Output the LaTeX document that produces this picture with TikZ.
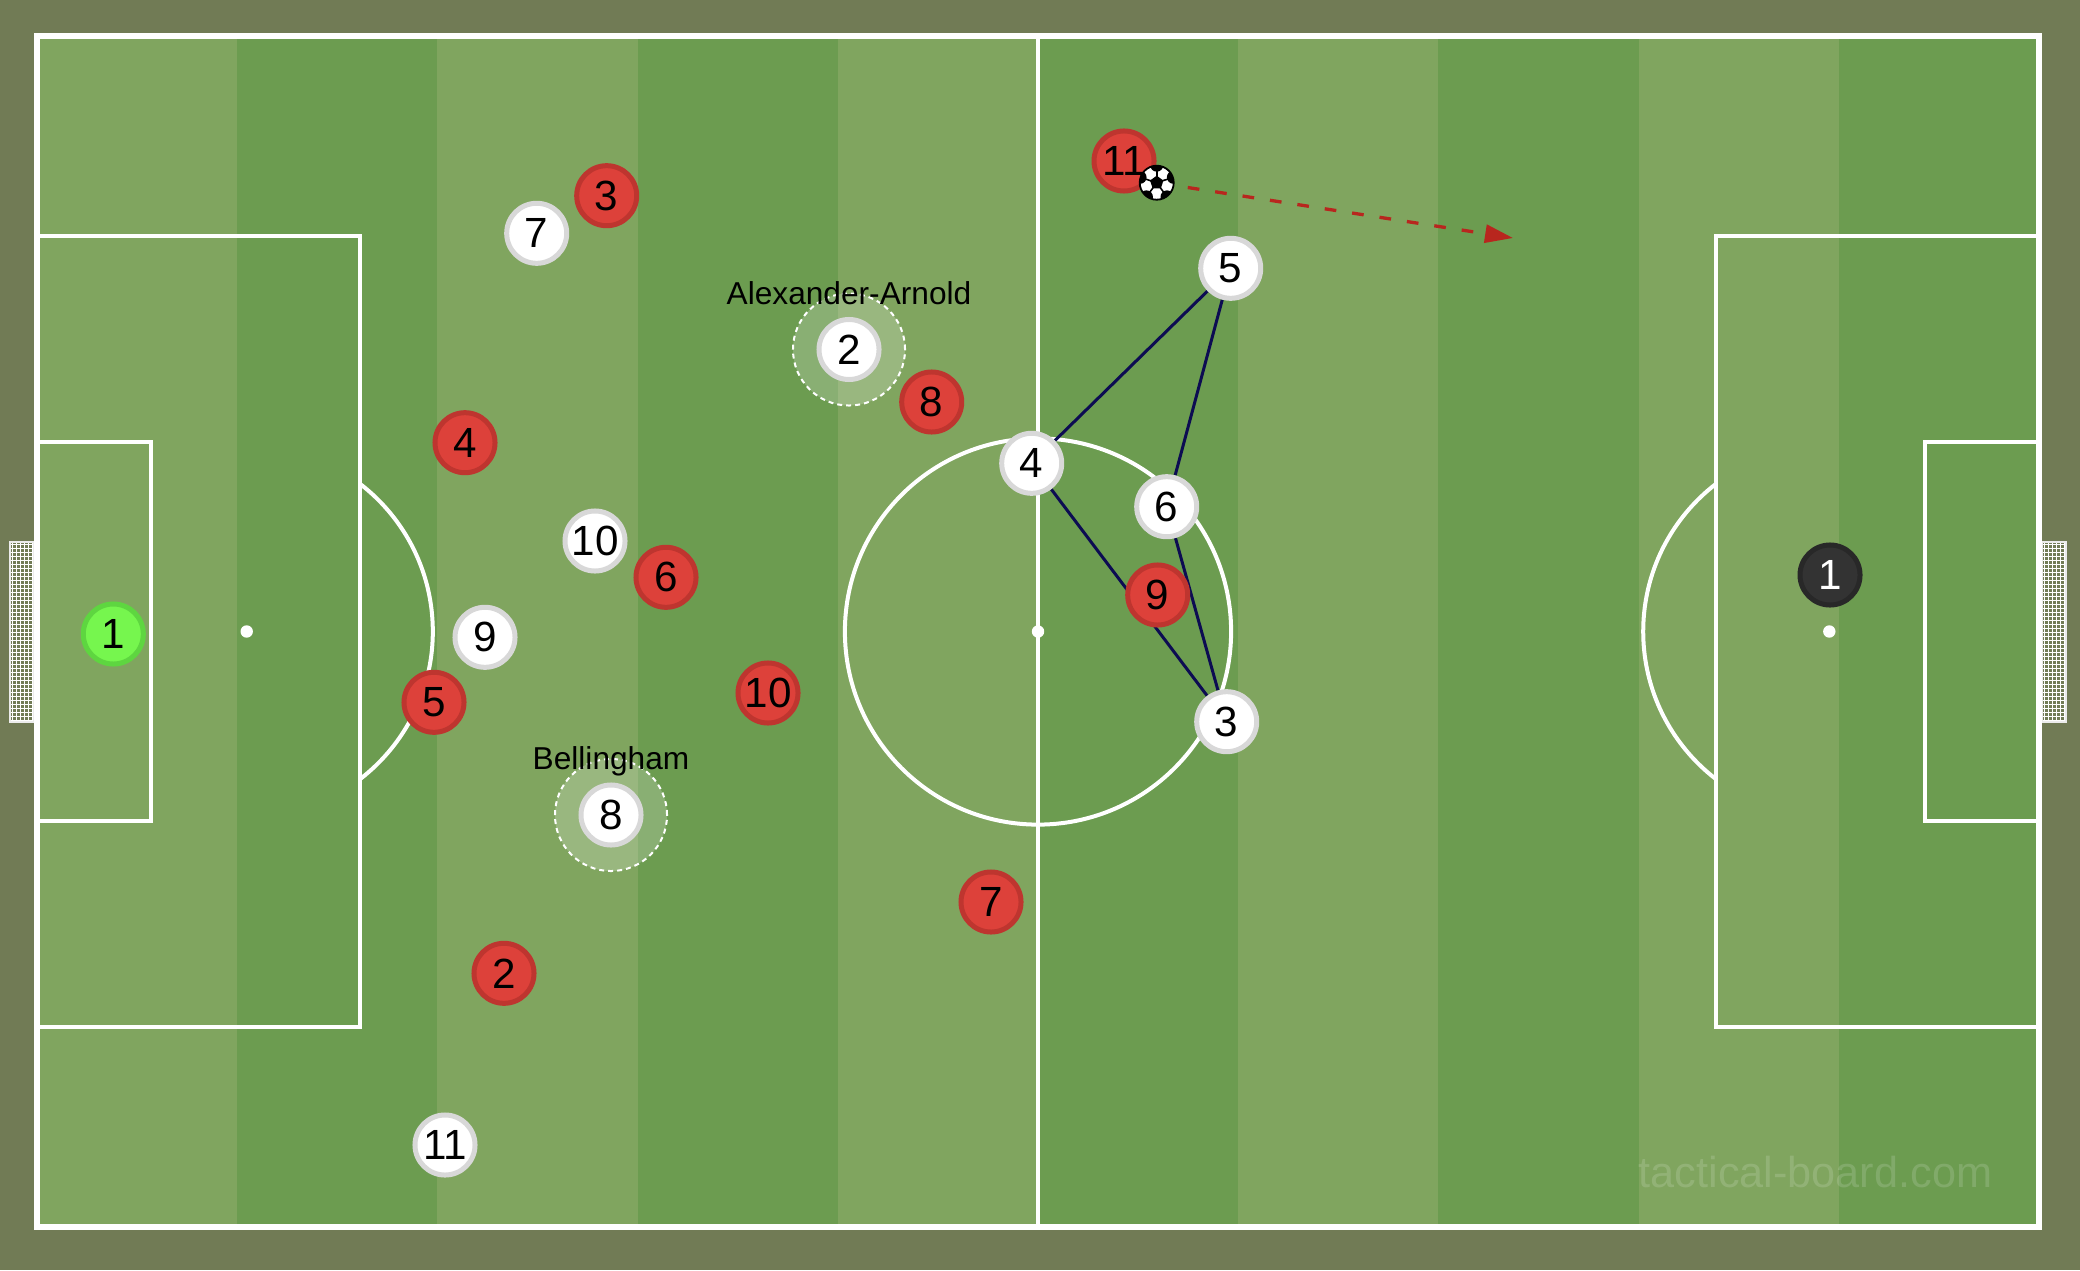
\documentclass[tikz,border=0pt]{standalone}
\usepackage{fontspec}
\setmainfont{Liberation Sans}
\usepackage{tikz}
\usetikzlibrary{arrows.meta,positioning}
\definecolor{board}{RGB}{113,123,85}
\definecolor{turf}{RGB}{128,165,95}
\definecolor{turfdark}{RGB}{108,156,80}
\definecolor{redfill}{RGB}{221,65,58}
\definecolor{redring}{RGB}{190,53,47}
\definecolor{whitering}{RGB}{216,216,216}
\definecolor{keepergreen}{RGB}{118,246,78}
\definecolor{keeperring}{RGB}{94,214,64}
\definecolor{keeperdark}{RGB}{51,51,51}
\definecolor{keeperdarkring}{RGB}{40,40,40}
\definecolor{navy}{RGB}{12,12,82}
\definecolor{passred}{RGB}{184,38,30}
\pgfdeclarelayer{pitch}
\pgfdeclarelayer{links}
\pgfsetlayers{pitch,links,main}
\tikzstyle{token} = [circle, minimum size=0.60cm, inner sep=0pt, line width=0.05cm, font=\fontsize{12}{14}\selectfont]
\tikzstyle{redman} = [token, draw=redring, fill=redfill]
\tikzstyle{whiteman} = [token, draw=whitering, fill=white]
\tikzstyle{greenkeeper} = [token, draw=keeperring, fill=keepergreen]
\tikzstyle{darkkeeper} = [token, draw=keeperdarkring, fill=keeperdark, text=white]
\tikzstyle{spotlight} = [circle, minimum size=1.12cm, inner sep=0pt, draw=white, fill=white, fill opacity=0.2,
    line width=0.02cm, dash pattern=on 0.05cm off 0.04cm]
\tikzstyle{namelabel} = [anchor=base, inner sep=0pt, font=\fontsize{9}{11}\selectfont]
\tikzstyle{pitchline} = [draw=white, line width=0.04cm]
\tikzstyle{link} = [draw=navy, line width=0.03cm]
\tikzstyle{pass} = [draw=passred, line width=0.033cm, dash pattern=on 0.117cm off 0.16cm,
    -{Triangle[length=0.28cm,width=0.18cm]}, shorten <=0.135cm]
\tikzstyle{ball} = [circle, draw=black, fill=white, line width=0.018cm, minimum size=0.34cm, inner sep=0pt,
    path picture={
      \foreach \a in {90,162,234,306,18}
        \draw[black, line width=0.016cm] (path picture bounding box.center) -- +(\a:0.2cm);
      \fill[black] (path picture bounding box.center) +(90:0.07cm) -- +(162:0.07cm) -- +(234:0.07cm)
        -- +(306:0.07cm) -- +(18:0.07cm) -- cycle;
      \foreach \a in {90,162,234,306,18}
        \fill[black] ([shift={(\a:0.175cm)}]path picture bounding box.center) circle[radius=0.065cm];
    }]

\begin{document}
\begin{tikzpicture}[x=0.01cm, y=-0.01cm]
    \useasboundingbox (0,0) rectangle (2080,1270);
    \begin{pgfonlayer}{pitch}
    % Turf
    \fill[board] (0,0) rectangle (2080,1270);
    \fill[turf] (37,36) rectangle (2039,1227);
    \foreach \i in {1,3,5,7,9}
        \fill[turfdark] ({37+200.2*\i},36) rectangle ({37+200.2*(\i+1)},1227);
    % Goals
    \foreach \gx in {10,2042} {
        \draw[white, line width=0.01cm, step=0.04cm] (\gx,542) grid (\gx+24,722);
        \draw[white!85!gray, line width=0.015cm] (\gx,542) rectangle (\gx+24,722);
    }
    % Markings
    \draw[pitchline, line width=0.06cm] (37,36) rectangle (2039,1227);
    \draw[pitchline] (1038,36) -- (1038,1227);
    \draw[pitchline] (1038,631.5) circle[radius=1.93cm];
    \draw[pitchline] (37,236) rectangle (360,1027);
    \draw[pitchline] (37,442) rectangle (151,821);
    \draw[pitchline] (2039,236) rectangle (1716,1027);
    \draw[pitchline] (2039,442) rectangle (1925,821);
    \begin{scope}
        \clip (360,0) rectangle (700,1270);
        \draw[pitchline] (246.7,631.5) circle[radius=1.86cm];
    \end{scope}
    \begin{scope}
        \clip (1380,0) rectangle (1716,1270);
        \draw[pitchline] (1829.3,631.5) circle[radius=1.86cm];
    \end{scope}
    \foreach \sx in {246.7,1038,1829.3}
        \fill[white] (\sx,631.5) circle[radius=0.062cm];
    \end{pgfonlayer}

    \node[anchor=base west, inner sep=0pt, text=white, text opacity=0.15, font=\fontsize{12.3}{14}\selectfont]
        (mark) at (1638,1187) {tactical-board.com};

    % Place nodes
    \node[spotlight] (w2ring) at (849,349.5) {};
    \node[spotlight] (w8ring) at (611,815) {};
    \node[greenkeeper] (gk1) at (113.3,634) {1};
    \node[darkkeeper] (gk2) at (1830,575) {1};

    \node[whiteman] (w7) at (536.7,233.3) {7};
    \node[whiteman] (w2) at (849,349.5) {2};
    \node[whiteman] (w10) at (595,541) {10};
    \node[whiteman] (w9) at (485,637.3) {9};
    \node[whiteman] (w8) at (611,815) {8};
    \node[whiteman] (w11) at (445,1145) {11};
    \node[whiteman] (w4) at (1031.7,463.3) {4};
    \node[whiteman] (w5) at (1230.7,268.3) {5};
    \node[whiteman] (w6) at (1166.7,506.7) {6};
    \node[whiteman] (w3) at (1226.7,721.7) {3};

    \node[redman] (r3) at (606.7,195.7) {3};
    \node[redman] (r4) at (465,442.7) {4};
    \node[redman] (r6) at (666,577.3) {6};
    \node[redman] (r5) at (434,702.3) {5};
    \node[redman] (r10) at (768,693) {10};
    \node[redman] (r8) at (931.7,402) {8};
    \node[redman] (r7) at (991,902) {7};
    \node[redman] (r2) at (504,973.3) {2};
    \node[redman] (r11) at (1124,161) {11};
    \node[redman] (r9) at (1157.7,595) {9};

    \node[ball] (ball) at (1156.7,182.7) {};
    \coordinate (runend) at (1513,238);

    \node[namelabel] (w2name) at ([yshift=0.45cm]w2.center) {Alexander-Arnold};
    \node[namelabel] (w8name) at ([yshift=0.45cm]w8.center) {Bellingham};

    % Draw edges
    \begin{pgfonlayer}{links}
    \path[link] (w4) -- (w5);
    \path[link] (w5) -- (w6);
    \path[link] (w4) -- (w3);
    \path[link] (w6) -- (w3);
    \end{pgfonlayer}
    \path[pass] (ball) -- (runend);
\end{tikzpicture}
\end{document}
